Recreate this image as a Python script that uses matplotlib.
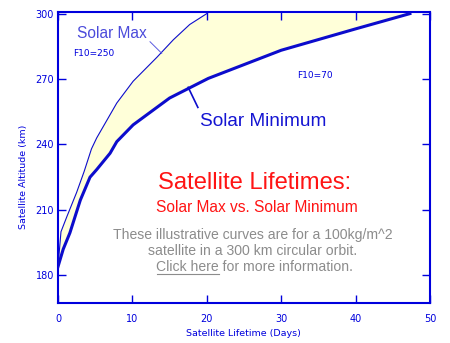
import matplotlib
matplotlib.use("Agg")
import matplotlib.pyplot as plt
import numpy as np
from matplotlib.lines import Line2D

# ---- data ----
solar_max_days = [0, 0.4, 1.2, 2.5, 3.5, 4.5, 5.2, 7.9, 10.1, 13.3, 15.5, 17.7, 20.0]
solar_max_alt = [184, 200, 207, 218, 227.5, 238, 243, 259, 269, 280, 288, 295, 300]
solar_min_days = [0, 0.7, 1.6, 3.0, 4.3, 5.2, 7.0, 7.9, 10.1, 15.0, 20.2, 30.0, 40.0, 47.3]
solar_min_alt = [184, 192, 199.5, 214.5, 225, 228.5, 236, 241.3, 249, 261.3, 270.3, 283.2, 293, 300]
x_ticks = [0, 10, 20, 30, 40, 50]
y_ticks = [180, 210, 240, 270, 300]

W, H = 450, 343
fig = plt.figure(figsize=(W / 100, H / 100), dpi=100)
L, R, T, B = 58, 430, 12.3, 303.3
ax = fig.add_axes([L / W, 1 - B / H, (R - L) / W, (B - T) / H])

axis_col = "#0000DD"
curve_col = "#0C0CCC"

# fill between curves
poly_x = list(solar_max_days) + list(solar_min_days[::-1])
poly_y = list(solar_max_alt) + list(solar_min_alt[::-1])
ax.fill(poly_x, poly_y, color="#FFFFD9", lw=0, zorder=1)

ax.plot(solar_max_days, solar_max_alt, color=curve_col, lw=0.8, zorder=3)
ax.plot(solar_min_days, solar_min_alt, color=curve_col, lw=2.2, zorder=3,
        solid_joinstyle="round")

# pointer lines
ax.plot([12.37, 13.94], [287.1, 281.8], color="#5A5AE0", lw=0.7, zorder=3)
ax.plot([17.5, 18.8], [266.2, 257.0], color=curve_col, lw=1.2, zorder=3)

ax.set_xlim(0, 50)
ax.set_ylim(167.2, 300.6)
ax.set_xticks(x_ticks)
ax.set_yticks(y_ticks)
for s in ax.spines.values():
    s.set_color(axis_col)
    s.set_linewidth(1.5)
ax.tick_params(axis="both", which="both", direction="in", length=5.5, width=1.0,
               color=axis_col, labelcolor=axis_col, labelsize=7,
               top=True, right=True)
ax.tick_params(axis="x", pad=8)
ax.tick_params(axis="y", pad=3)
for lab in ax.get_xticklabels() + ax.get_yticklabels():
    lab.set_fontfamily("DejaVu Sans")

def ft(x, y, s, **kw):
    return fig.text(x / W, 1 - y / H, s, **kw)

ft(243, 334, "Satellite Lifetime (Days)", color=axis_col, fontsize=6.8,
   ha="center", va="center", family="DejaVu Sans")
ft(24, 177, "Satellite Altitude (km)", color=axis_col, fontsize=6.8,
   ha="center", va="center", rotation=90, family="DejaVu Sans")

sans = "Liberation Sans"
ft(77, 34, "Solar Max", color="#4B4BDB", fontsize=11.2, ha="left", va="center", family=sans)
ft(73, 53, "F10=250", color=axis_col, fontsize=6.5, ha="left", va="center", family="DejaVu Sans")
ft(297, 76, "F10=70", color=axis_col, fontsize=6.5, ha="left", va="center", family="DejaVu Sans")
ft(200, 121.5, "Solar Minimum", color="#1414D2", fontsize=13.7, ha="left", va="center", family=sans)

cx = 255
ft(cx, 183, "Satellite Lifetimes:", color="#FF1414", fontsize=17.1, ha="center", va="center", family=sans)
ft(cx + 2, 208, "Solar Max vs. Solar Minimum", color="#FF1414", fontsize=11.2, ha="center", va="center", family=sans)
gray = "#8C8C8C"
fs_g = 10.1
ft(cx - 2, 235, "These illustrative curves are for a 100kg/m^2", color=gray, fontsize=fs_g,
   ha="center", va="center", family=sans)
ft(cx - 2, 251, "satellite in a 300 km circular orbit.", color=gray, fontsize=fs_g,
   ha="center", va="center", family=sans)
full = ft(cx, 267, "Click here for more information.", color=gray, fontsize=fs_g,
          ha="center", va="center", family=sans)

# underline "Click here"
renderer = fig.canvas.get_renderer()
bb = full.get_window_extent(renderer)
tmp = fig.text(0, 0, "Click here", fontsize=fs_g, family=sans)
wbb = tmp.get_window_extent(renderer)
tmp.remove()
uy = bb.y0 + 0.5
fig.add_artist(Line2D([bb.x0 / W, (bb.x0 + wbb.width) / W], [uy / H, uy / H],
                      color=gray, lw=0.8, transform=fig.transFigure))

fig.savefig("out.png", dpi=100)
